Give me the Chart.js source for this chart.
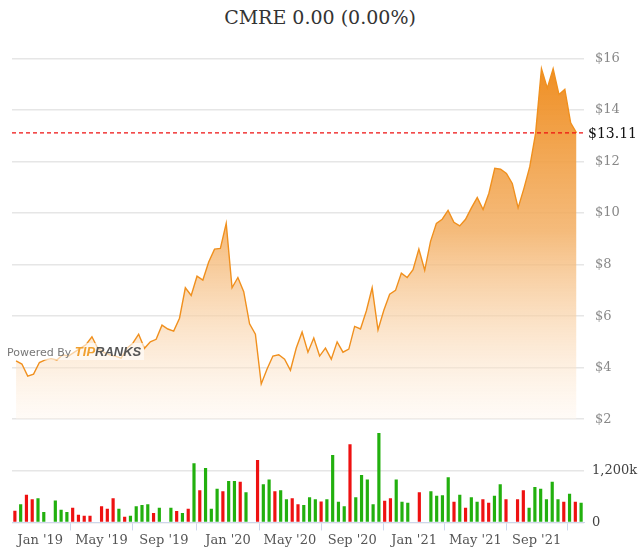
<!DOCTYPE html>
<html>
<head>
<meta charset="utf-8">
<script src="https://cdn.jsdelivr.net/npm/chart.js@4"></script>
<style>
  body { margin: 0; background: #fff; }
  #wrap { position: relative; width: 640px; height: 550px; }
  #title { position: absolute; top: 6px; left: 0; width: 640px; text-align: center;
           font: 19px "DejaVu Serif", serif; color: #333; }
  #logo { position: absolute; left: 4px; top: 343px; font: 11px "DejaVu Sans", sans-serif; color: #777;
          background: rgba(255,255,255,0.6); padding: 1px 3px; z-index: 3; }
  #logo b { font: bold 13px "Liberation Sans", sans-serif; color: #555; font-style: italic; }
  #logo b span { color: #f0a030; }
  canvas { position: absolute; left: 0; }
</style>
</head>
<body>
<div id="wrap">
  <div id="title">CMRE 0.00 (0.00%)</div>
  <div style="position:absolute;top:0;left:0;width:640px;height:438px"><canvas id="price"></canvas></div>
  <div style="position:absolute;top:416px;left:0;width:640px;height:134px"><canvas id="volume"></canvas></div>
  <div id="logo">Powered By <b><span>TIP</span>RANKS</b></div>
</div>
<script>
// closing price, one point per period
const prices = [4.26, 4.14, 3.67, 3.75, 4.2, 4.3, 4.35, 4.3, 4.5, 4.45, 4.6, 4.75, 4.9, 5.2, 4.75, 4.6, 4.5,
  4.45, 4.37, 4.76, 4.95, 5.3, 4.75, 5.0, 5.1, 5.65, 5.5, 5.42, 5.92, 7.1, 6.8, 7.55, 7.4, 8.1, 8.6, 8.63, 9.6,
  7.1, 7.5, 6.95, 5.7, 5.3, 3.37, 3.95, 4.45, 4.5, 4.33, 3.9, 4.76, 5.38, 4.6, 5.15, 4.45, 4.76, 4.33, 5.0,
  4.6, 4.72, 5.6, 5.5, 6.2, 7.1, 5.46, 6.23, 6.85, 7.0, 7.67, 7.5, 7.8, 8.6, 7.78, 8.9, 9.6, 9.76, 10.1, 9.64,
  9.5, 9.76, 10.2, 10.6, 10.14, 10.77, 11.74, 11.7, 11.54, 11.15, 10.2, 10.96, 11.8, 13.1, 15.6, 14.85, 15.6,
  14.6, 14.8, 13.5, 13.11];
const lastPrice = 13.11;

// volume in thousands per slot (null = no bar), up = green
const volumes = [271, 426, 643, 542, 565, 240, null, 511, 294, 240, 341, 178, 155, 155, null, 379, 317, 565,
  317, 132, 155, 379, 403, 426, 217, 341, null, 341, 263, 217, 317, 1378, 751, 1270, 317, 782, 728, 968, 968,
  945, 705, null, 1455, 890, 999, 728, 751, 542, 565, 426, 403, 588, 542, 488, 542, 1572, 480, 379, 1819, 588,
  1107, 999, 426, 2083, 503, 565, 999, 480, 457, null, 705, null, 728, 619, 635, 1053, 480, 643, 341, 588,
  480, 542, 457, 619, 890, 542, null, 542, 751, 341, 828, 782, 542, 945, 542, 480, 666, 480, 457];
const volumeUp = [0, 1, 0, 0, 1, 1, 0, 1, 1, 1, 0, 0, 0, 0, 0, 0, 0, 0, 1, 0, 1, 1, 1, 1, 0, 1, 0, 1, 0, 1, 0,
  1, 0, 1, 1, 1, 0, 1, 1, 0, 1, 0, 0, 1, 1, 0, 1, 1, 0, 0, 1, 1, 1, 0, 1, 1, 1, 1, 0, 1, 1, 1, 1, 1, 0, 0, 1,
  1, 1, 0, 0, 0, 1, 1, 1, 1, 0, 1, 0, 1, 1, 0, 0, 1, 1, 0, 0, 0, 0, 1, 1, 1, 1, 1, 1, 0, 1, 0, 1];

const monthLabels = ["Jan '19", "May '19", "Sep '19", "Jan '20", "May '20", "Sep '20", "Jan '21", "May '21", "Sep '21"];
const monthSlots = [4.4, 15.0, 25.8, 36.9, 47.6, 58.4, 69.1, 79.7, 90.3];

const nSlots = volumes.length;
const serif = "'DejaVu Serif', serif";

const refLine = {
  id: 'refLine',
  afterDatasetsDraw(chart) {
    const y = chart.scales.y.getPixelForValue(lastPrice);
    const a = chart.chartArea, ctx = chart.ctx;
    ctx.save();
    ctx.strokeStyle = '#ee1111';
    ctx.lineWidth = 1.3;
    ctx.setLineDash([4, 3]);
    ctx.beginPath(); ctx.moveTo(a.left, y); ctx.lineTo(a.right, y); ctx.stroke();
    ctx.setLineDash([]);
    ctx.fillStyle = '#fff';
    ctx.fillRect(a.right + 3, y - 9, 52, 18);
    ctx.fillStyle = '#111';
    ctx.font = '14px ' + serif;
    ctx.textBaseline = 'middle';
    ctx.fillText('$' + lastPrice.toFixed(2), a.right + 4, y + 1);
    ctx.restore();
  }
};

new Chart(document.getElementById('price'), {
  type: 'line',
  data: {
    datasets: [{
      data: prices.map((p, i) => ({ x: i * (nSlots - 2) / (prices.length - 1) + 0.2, y: p })),
      borderColor: '#f0901e',
      borderWidth: 1.4,
      pointRadius: 0,
      tension: 0,
      fill: 'start',
      backgroundColor(ctx) {
        const a = ctx.chart.chartArea;
        if (!a) return 'rgba(240,140,30,0.5)';
        const g = ctx.chart.ctx.createLinearGradient(0, a.top, 0, a.bottom);
        g.addColorStop(0, 'rgba(238,135,20,1)');
        g.addColorStop(0.5, 'rgba(243,175,100,0.85)');
        g.addColorStop(1, 'rgba(255,245,235,0.4)');
        return g;
      }
    }]
  },
  options: {
    responsive: true, maintainAspectRatio: false, animation: false,
    layout: { padding: { left: 12, top: 43, bottom: 6 } },
    plugins: { legend: { display: false }, tooltip: { enabled: false } },
    scales: {
      x: { type: 'linear', min: -0.5, max: nSlots - 0.5, display: false },
      y: {
        position: 'right', min: 2, max: 16.6,
        afterFit(s) { s.width = 56; },
        afterBuildTicks(s) { s.ticks = [2, 4, 6, 8, 10, 12, 14, 16].map(v => ({ value: v })); },
        border: { display: false },
        grid: { color: '#e6e6e6', lineWidth: 1.5, drawTicks: false },
        ticks: { padding: 11, color: '#888', font: { family: serif, size: 13 }, callback: v => '$' + v }
      }
    }
  },
  plugins: [refLine]
});

new Chart(document.getElementById('volume'), {
  type: 'bar',
  data: {
    datasets: [{
      data: volumes.map((v, i) => ({ x: i, y: v })),
      backgroundColor: volumeUp.map(u => u ? '#22b00e' : '#ee1111'),
      barPercentage: 0.55, categoryPercentage: 1
    }]
  },
  options: {
    responsive: true, maintainAspectRatio: false, animation: false,
    layout: { padding: { left: 12, top: 5 } },
    plugins: { legend: { display: false }, tooltip: { enabled: false } },
    scales: {
      x: {
        type: 'linear', min: -0.5, max: nSlots - 0.5, offset: false,
        afterBuildTicks(s) { s.ticks = monthSlots.map(v => ({ value: v })); },
        border: { color: '#ccd6eb' },
        grid: { display: true, drawOnChartArea: false, color: '#ccd6eb', tickLength: 8 },
        ticks: {
          maxRotation: 0, autoSkip: false, padding: 2, color: '#555', font: { family: serif, size: 13 },
          callback: (v) => monthLabels[monthSlots.indexOf(v)]
        }
      },
      y: {
        position: 'right', min: 0, max: 2112,
        afterFit(s) { s.width = 56; },
        afterBuildTicks(s) { s.ticks = [{ value: 0 }, { value: 1200 }]; },
        border: { display: false },
        grid: { color: '#e6e6e6', lineWidth: 1.5, drawTicks: false },
        ticks: { padding: 8, color: '#444', font: { family: serif, size: 13 },
                 callback: v => v === 0 ? '0' : v.toLocaleString('en-US') + 'k' }
      }
    }
  }
});
</script>
</body>
</html>
